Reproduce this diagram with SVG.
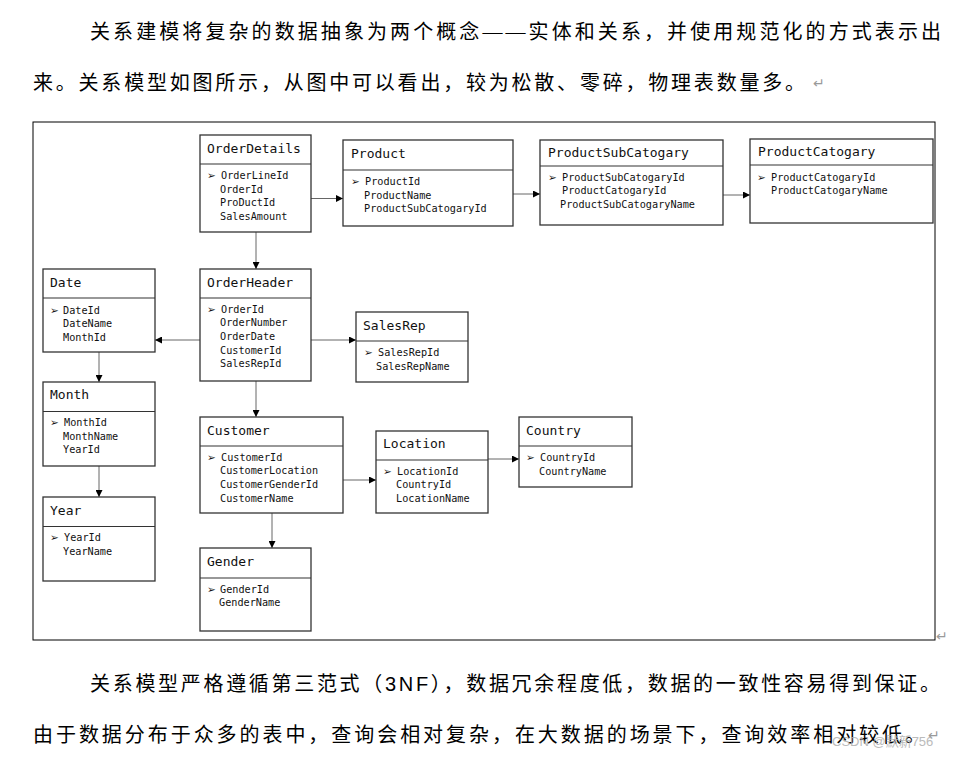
<svg xmlns="http://www.w3.org/2000/svg" width="956" height="758" viewBox="0 0 956 758">
<defs>
<style>
.bg{fill:#ffffff}
.frame{fill:none;stroke:#000;stroke-width:1}
.box{fill:#ffffff;stroke:#333;stroke-width:1.3}
.sep{stroke:#333;stroke-width:1.2}
.title{font-family:"DejaVu Sans Mono","Liberation Mono",monospace;font-size:13px;fill:#111}
.field{font-family:"DejaVu Sans Mono","Liberation Mono",monospace;font-size:10.2px;fill:#111}
.bul{font-family:"DejaVu Sans",sans-serif;font-size:10.5px;fill:#111}
.conn{stroke:#666;stroke-width:1;fill:none;marker-end:url(#ah)}
.para{font-family:"Liberation Serif","Noto Sans CJK SC",serif;font-size:20px;fill:#000}
.lat{font-family:"Liberation Sans",sans-serif}
.mark{font-family:"DejaVu Sans",sans-serif;font-size:14px;fill:#9a9a9a}
.wm{font-family:"Liberation Sans","Noto Sans CJK SC",sans-serif;font-size:13px;fill:#b0b0b0;opacity:0.85}
</style>
<marker id="ah" markerUnits="userSpaceOnUse" markerWidth="7" markerHeight="7" refX="7" refY="3.5" orient="auto">
<path d="M0,0 L7,3.5 L0,7 z" fill="#000"/>
</marker>
</defs>
<rect class="bg" x="0" y="0" width="956" height="758"/>

<g id="text-top">
<text class="para" x="90" y="38.5" textLength="851" lengthAdjust="spacing">关系建模将复杂的数据抽象为两个概念——实体和关系，并使用规范化的方式表示出</text>
<text class="para" x="33" y="89.5" textLength="772" lengthAdjust="spacing">来。关系模型如图所示，从图中可以看出，较为松散、零碎，物理表数量多。</text>
<text class="mark" x="813" y="88">↵</text>
</g>

<rect class="frame" x="33" y="122" width="902" height="518"/>
<text class="mark" x="936" y="641">↵</text>

<g id="connectors">
<line class="conn" x1="311" y1="198.5" x2="343" y2="198.5"/>
<line class="conn" x1="513" y1="194" x2="540" y2="194"/>
<line class="conn" x1="723" y1="195" x2="750" y2="195"/>
<line class="conn" x1="256" y1="232" x2="256" y2="269"/>
<line class="conn" x1="200" y1="340" x2="155" y2="340"/>
<line class="conn" x1="311" y1="340" x2="356" y2="340"/>
<line class="conn" x1="99" y1="352" x2="99" y2="382"/>
<line class="conn" x1="99" y1="466" x2="99" y2="497"/>
<line class="conn" x1="256" y1="381" x2="256" y2="417"/>
<line class="conn" x1="272" y1="513" x2="272" y2="548"/>
<line class="conn" x1="343" y1="480" x2="376" y2="480"/>
<line class="conn" x1="488" y1="459" x2="519" y2="459"/>
</g>

<g id="OrderDetails">
<rect class="box" x="200" y="135" width="111" height="97"/>
<line class="sep" x1="200" y1="164" x2="311" y2="164"/>
<text class="title" x="207" y="153">OrderDetails</text>
<text class="bul" x="207" y="179">➢</text>
<text class="field" x="221" y="179">OrderLineId</text>
<text class="field" x="220" y="192.7">OrderId</text>
<text class="field" x="220" y="206.4">ProDuctId</text>
<text class="field" x="220" y="220.1">SalesAmount</text>
</g>

<g id="Product">
<rect class="box" x="343" y="140" width="170" height="86"/>
<line class="sep" x1="343" y1="170" x2="513" y2="170"/>
<text class="title" x="351" y="158">Product</text>
<text class="bul" x="351" y="185">➢</text>
<text class="field" x="365" y="185">ProductId</text>
<text class="field" x="364" y="198.5">ProductName</text>
<text class="field" x="364" y="212.3">ProductSubCatogaryId</text>
</g>

<g id="ProductSubCatogary">
<rect class="box" x="540" y="140" width="183" height="85"/>
<line class="sep" x1="540" y1="166" x2="723" y2="166"/>
<text class="title" x="548" y="157">ProductSubCatogary</text>
<text class="bul" x="548" y="180.5">➢</text>
<text class="field" x="562" y="180.5">ProductSubCatogaryId</text>
<text class="field" x="562" y="194.2">ProductCatogaryId</text>
<text class="field" x="560" y="207.9">ProductSubCatogaryName</text>
</g>

<g id="ProductCatogary">
<rect class="box" x="750" y="139" width="183" height="84"/>
<line class="sep" x1="750" y1="165" x2="933" y2="165"/>
<text class="title" x="758" y="156">ProductCatogary</text>
<text class="bul" x="757" y="180.5">➢</text>
<text class="field" x="771" y="180.5">ProductCatogaryId</text>
<text class="field" x="771" y="194.2">ProductCatogaryName</text>
</g>

<g id="Date">
<rect class="box" x="43" y="269" width="112" height="83"/>
<line class="sep" x1="43" y1="298" x2="155" y2="298"/>
<text class="title" x="50" y="287">Date</text>
<text class="bul" x="50" y="313.5">➢</text>
<text class="field" x="63" y="313.5">DateId</text>
<text class="field" x="63" y="327.2">DateName</text>
<text class="field" x="63" y="340.9">MonthId</text>
</g>

<g id="OrderHeader">
<rect class="box" x="200" y="269" width="111" height="112"/>
<line class="sep" x1="200" y1="298" x2="311" y2="298"/>
<text class="title" x="207" y="287">OrderHeader</text>
<text class="bul" x="207" y="312.5">➢</text>
<text class="field" x="221" y="312.5">OrderId</text>
<text class="field" x="220" y="326.2">OrderNumber</text>
<text class="field" x="220" y="339.9">OrderDate</text>
<text class="field" x="220" y="353.6">CustomerId</text>
<text class="field" x="220" y="367.3">SalesRepId</text>
</g>

<g id="SalesRep">
<rect class="box" x="356" y="312" width="112" height="70"/>
<line class="sep" x1="356" y1="341" x2="468" y2="341"/>
<text class="title" x="363" y="330">SalesRep</text>
<text class="bul" x="364" y="356">➢</text>
<text class="field" x="378" y="356">SalesRepId</text>
<text class="field" x="376" y="369.7">SalesRepName</text>
</g>

<g id="Month">
<rect class="box" x="43" y="382" width="112" height="84"/>
<line class="sep" x1="43" y1="411.5" x2="155" y2="411.5"/>
<text class="title" x="50" y="399">Month</text>
<text class="bul" x="50" y="426">➢</text>
<text class="field" x="64" y="426">MonthId</text>
<text class="field" x="63" y="439.7">MonthName</text>
<text class="field" x="63" y="453.4">YearId</text>
</g>

<g id="Year">
<rect class="box" x="43" y="497" width="112" height="84"/>
<line class="sep" x1="43" y1="526.5" x2="155" y2="526.5"/>
<text class="title" x="50" y="515">Year</text>
<text class="bul" x="50" y="541">➢</text>
<text class="field" x="64" y="541">YearId</text>
<text class="field" x="63" y="554.7">YearName</text>
</g>

<g id="Customer">
<rect class="box" x="200" y="417" width="143" height="96"/>
<line class="sep" x1="200" y1="446" x2="343" y2="446"/>
<text class="title" x="207" y="435">Customer</text>
<text class="bul" x="207" y="460.5">➢</text>
<text class="field" x="221" y="460.5">CustomerId</text>
<text class="field" x="220" y="474.2">CustomerLocation</text>
<text class="field" x="220" y="487.9">CustomerGenderId</text>
<text class="field" x="220" y="501.6">CustomerName</text>
</g>

<g id="Location">
<rect class="box" x="376" y="431" width="112" height="82"/>
<line class="sep" x1="376" y1="460" x2="488" y2="460"/>
<text class="title" x="383" y="448">Location</text>
<text class="bul" x="383" y="474.5">➢</text>
<text class="field" x="397" y="474.5">LocationId</text>
<text class="field" x="396" y="488.2">CountryId</text>
<text class="field" x="396" y="501.9">LocationName</text>
</g>

<g id="Country">
<rect class="box" x="519" y="417" width="113" height="70"/>
<line class="sep" x1="519" y1="446" x2="632" y2="446"/>
<text class="title" x="526" y="435">Country</text>
<text class="bul" x="526" y="461">➢</text>
<text class="field" x="540" y="461">CountryId</text>
<text class="field" x="539" y="474.7">CountryName</text>
</g>

<g id="Gender">
<rect class="box" x="200" y="548" width="111" height="83"/>
<line class="sep" x1="200" y1="578" x2="311" y2="578"/>
<text class="title" x="207" y="566">Gender</text>
<text class="bul" x="207" y="592.5">➢</text>
<text class="field" x="220" y="592.5">GenderId</text>
<text class="field" x="219" y="606.2">GenderName</text>
</g>

<g id="text-bottom">
<text class="para" x="90" y="690.5" textLength="850" lengthAdjust="spacing">关系模型严格遵循第三范式（<tspan class="lat">3NF</tspan>），数据冗余程度低，数据的一致性容易得到保证。</text>
<text class="para" x="33" y="741.5" textLength="892" lengthAdjust="spacing">由于数据分布于众多的表中，查询会相对复杂，在大数据的场景下，查询效率相对较低。</text>
<text class="mark" x="928" y="740">↵</text>
<text class="wm" x="832" y="746">CSDN @默新756</text>
</g>
</svg>
